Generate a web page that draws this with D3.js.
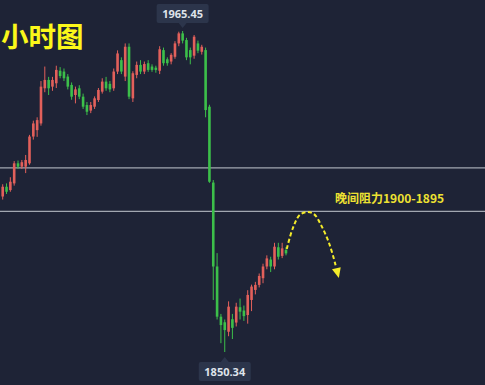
<!DOCTYPE html>
<html>
<head>
<meta charset="utf-8">
<script src="https://cdn.jsdelivr.net/npm/d3@7"></script>
<style>
  body { margin: 0; background: #1e2336; }
  svg { display: block; }
</style>
</head>
<body>
<svg id="svg" width="485" height="385"></svg>
<script>
// hourly candles
const open = [1906.1,1909.6,1908.4,1910.8,1918.0,1916.8,1916.8,1918.0,1927.6,1929.9,
  1932.3,1944.9,1947.9,1945.5,1946.7,1951.2,1950.9,1949.1,1946.1,1942.5,
  1944.9,1941.9,1938.9,1936.9,1938.3,1940.7,1943.7,1947.3,1946.5,1944.9,
  1950.9,1955.0,1949.1,1959.8,1941.3,1949.7,1953.3,1950.9,1953.9,1952.7,
  1952.3,1951.2,1958.6,1955.3,1954.5,1956.2,1961.0,1964.6,1962.2,1958.6,
  1956.6,1961.0,1958.0,1958.6,1938.3,1911.1,1881.0,1863.0,1861.0,1857.6,
  1862.1,1860.9,1866.4,1865.2,1863.6,1869.0,1872.6,1874.4,1876.8,1881.0,
  1883.5,1881.0,1887.9,1884.8,1886.9];
const close = [1909.6,1907.8,1911.4,1918.0,1916.8,1918.4,1919.2,1927.6,1932.3,1933.5,
  1945.5,1947.9,1944.9,1947.9,1951.5,1949.3,1948.5,1945.5,1941.9,1944.5,
  1941.9,1938.3,1936.5,1938.9,1941.3,1944.3,1947.3,1944.9,1944.5,1950.9,
  1957.4,1950.9,1959.8,1941.9,1950.3,1953.3,1950.9,1953.6,1951.5,1951.5,
  1951.5,1958.9,1953.9,1953.9,1956.9,1961.0,1964.6,1962.0,1956.0,1956.0,
  1963.4,1958.4,1959.8,1937.1,1911.4,1881.0,1863.0,1860.0,1858.2,1866.6,
  1859.0,1866.6,1864.8,1863.2,1870.8,1873.8,1874.4,1877.6,1881.0,1883.9,
  1881.0,1888.1,1884.5,1887.5,1885.7];
const high = [1910.5,1910.8,1913.0,1918.8,1919.0,1919.2,1921.0,1928.2,1933.3,1934.5,
  1947.5,1952.7,1949.0,1949.0,1953.0,1952.5,1952.0,1950.0,1947.0,1945.5,
  1946.0,1943.0,1940.0,1940.0,1942.0,1945.0,1948.5,1949.0,1947.5,1952.0,
  1958.5,1956.0,1961.0,1961.0,1951.0,1954.5,1955.0,1954.5,1955.0,1953.5,
  1953.0,1960.0,1959.5,1956.0,1957.5,1961.8,1965.2,1965.45,1963.0,1959.5,
  1964.0,1962.0,1960.5,1959.5,1939.0,1912.0,1885.8,1864.0,1862.0,1868.5,
  1864.0,1868.0,1869.5,1867.0,1872.5,1874.5,1875.5,1878.5,1882.0,1885.0,
  1884.5,1889.5,1889.5,1889.5,1888.0];
const low = [1905.0,1907.0,1907.8,1910.0,1916.0,1916.0,1914.5,1917.5,1926.5,1927.5,
  1931.5,1943.5,1942.5,1944.0,1945.0,1948.5,1947.5,1944.5,1940.8,1939.5,
  1941.0,1937.5,1935.3,1936.0,1937.5,1940.0,1943.0,1944.0,1943.5,1944.0,
  1950.0,1950.0,1947.5,1941.0,1940.0,1948.5,1950.0,1950.0,1950.8,1950.8,
  1950.5,1950.0,1953.0,1953.0,1953.5,1955.5,1960.0,1961.0,1955.0,1953.5,
  1955.5,1957.5,1957.0,1934.5,1911.0,1869.0,1862.0,1853.5,1850.34,1856.0,
  1855.0,1859.5,1862.0,1861.5,1860.5,1865.0,1871.0,1873.5,1875.0,1880.0,
  1879.0,1880.0,1883.5,1884.0,1885.0];

const levels = [1916.4, 1900.8];
const title = "小时图";
const note = "晚间阻力1900-1895";
// projected path: candle index / price
const arcIdx = [74.2, 75.8, 77.6, 79.5, 81.3, 83.4, 85.5, 87.0];
const arcPrice = [1887.3, 1894.8, 1899.5, 1900.55, 1899.8, 1895.2, 1888.4, 1881.2];
const arrowTip = [87.8, 1876.9];

window.onload = function () {

    let svg = d3.select('#svg');
    const up = "#e2605b", down = "#3cbf4a";

    let x = d3.scaleLinear().domain([0, open.length - 1]).range([2.7, 286]);
    let y = d3.scaleLinear().domain([1850.34, 1965.45]).range([352, 31]);

    svg.append("rect").attr("x", 0).attr("y", 0).attr("width", 485).attr("height", 385).attr("fill", "#1e2336");

    // level lines
    svg.selectAll(".lvl").data(levels).enter().append("line")
        .attr("x1", 0).attr("x2", 485)
        .attr("y1", d => y(d)).attr("y2", d => y(d))
        .attr("stroke", "#a2a7b1").attr("stroke-width", 1.3);

    // candles
    let idx = d3.range(open.length);
    let g = svg.append("g");
    g.selectAll(".wick").data(idx).enter().append("line")
        .attr("x1", i => x(i)).attr("x2", i => x(i))
        .attr("y1", i => y(high[i])).attr("y2", i => y(low[i]))
        .attr("stroke", i => close[i] >= open[i] ? up : down)
        .attr("stroke-width", 1);
    g.selectAll(".body").data(idx).enter().append("rect")
        .attr("x", i => x(i) - 1.3)
        .attr("width", 2.6)
        .attr("y", i => y(Math.max(open[i], close[i])))
        .attr("height", i => Math.max(1, Math.abs(y(open[i]) - y(close[i]))))
        .attr("fill", i => close[i] >= open[i] ? up : down);

    // max / min tags
    let hi = d3.maxIndex(high), lo = d3.minIndex(low);
    const tag = (i, val, above) => {
        let cx = x(i);
        let w = 52, h = 19;
        let by = above ? y(val) - 27 : y(val) + 10;
        svg.append("rect").attr("x", cx - w / 2).attr("y", by).attr("width", w).attr("height", h)
            .attr("rx", 2).attr("fill", "#2c354b");
        let ty = above ? by + h : by;
        let tri = above
            ? [[cx - 4, ty], [cx + 4, ty], [cx, ty + 5]]
            : [[cx - 4, ty], [cx + 4, ty], [cx, ty - 5]];
        svg.append("path").attr("d", "M" + tri.join("L") + "Z").attr("fill", "#2c354b");
        svg.append("text").attr("x", cx).attr("y", by + 13.5).attr("text-anchor", "middle")
            .style("font-family", "'Open Sans', 'Noto Sans', sans-serif").style("font-size", "11px")
            .style("font-weight", 700).style("fill", "#dfe3ea").text(val.toFixed(2));
    };
    tag(hi, high[hi], true);
    tag(lo, low[lo], false);

    // title
    svg.append("text").attr("x", 1).attr("y", 47)
        .style("font-family", "'Noto Sans CJK SC', sans-serif").style("font-size", "27.5px")
        .style("font-weight", 700).style("fill", "#fbf71a").text(title);

    // note
    svg.append("text").attr("x", 335).attr("y", 203)
        .style("font-family", "'Noto Sans CJK SC', sans-serif").style("font-size", "12px")
        .style("font-weight", 700).style("fill", "#eee232").text(note);

    // dashed projection arc
    let pts = arcIdx.map((d, i) => [x(d), y(arcPrice[i])]);
    let line = d3.line().curve(d3.curveCatmullRom);
    svg.append("path").attr("d", line(pts)).attr("fill", "none")
        .attr("stroke", "#f4ec2a").attr("stroke-width", 2).attr("stroke-dasharray", "4,2.5");

    let tx = x(arrowTip[0]), ty = y(arrowTip[1]);
    let last = pts[pts.length - 1];
    let dx = tx - last[0], dy = ty - last[1];
    let len = Math.sqrt(dx * dx + dy * dy);
    let ux = dx / len, uy = dy / len;
    let bx = tx - ux * 10, by = ty - uy * 10;
    let head = [[tx, ty], [bx - uy * 4.5, by + ux * 4.5], [bx + uy * 4.5, by - ux * 4.5]];
    svg.append("path").attr("d", "M" + head.join("L") + "Z").attr("fill", "#f4ec2a");
}
</script>
</body>
</html>
